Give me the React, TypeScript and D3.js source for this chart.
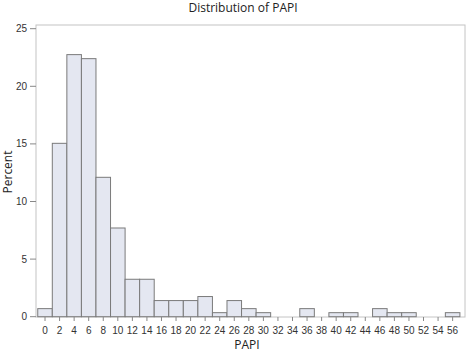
import React from 'react';
import * as d3 from 'd3';

const papiBins = [0, 2, 4, 6, 8, 10, 12, 14, 16, 18, 20, 22, 24, 26, 28, 30, 32, 34, 36, 38, 40, 42, 44, 46, 48, 50, 52, 54, 56];
const percentValues = [0.7, 15.05, 22.75, 22.4, 12.1, 7.7, 3.25, 3.25, 1.4, 1.4, 1.4, 1.75, 0.35, 1.4, 0.7, 0.35, 0, 0, 0.7, 0, 0.35, 0.35, 0, 0.7, 0.35, 0.35, 0, 0, 0.35];
const yTicks = [0, 5, 10, 15, 20, 25];

const W = 474;
const H = 351;
const frame = { left: 36, right: 465, top: 25, bottom: 317 };
const font = '"Liberation Sans", Arial, sans-serif';

const App = () => {
  // x: bin centre -> px, bins are 2 wide
  const x = d3.scaleLinear().domain([-1.24, 57.7]).range([frame.left, frame.right]);
  const y = d3.scaleLinear().domain([0, 25]).range([316.7, 28.7]);

  return (
    <svg width={W} height={H} style={{ position: 'absolute', left: 0, top: 0, background: '#fff' }}>
      <text x={243} y={12} textAnchor="middle" fontFamily='"Open Sans", sans-serif' fontSize={12} fill="#222">
        Distribution of PAPI
      </text>

      {/* plot wall */}
      <rect x={frame.left} y={frame.top} width={frame.right - frame.left} height={frame.bottom - frame.top}
        fill="none" stroke="#c4c4c4" strokeWidth={1} />

      {/* bars */}
      {percentValues.map((v, i) => v > 0 && (
        <rect key={i}
          x={x(papiBins[i] - 1)}
          y={y(v)}
          width={x(papiBins[i] + 1) - x(papiBins[i] - 1)}
          height={y(0) - y(v)}
          fill="#e4e7f1" stroke="#7a7a7a" strokeWidth={1} />
      ))}

      {/* y axis */}
      {yTicks.map((t) => (
        <g key={t}>
          <line x1={30} x2={frame.left} y1={y(t)} y2={y(t)} stroke="#888" />
          <text x={27} y={y(t) + 3.5} textAnchor="end" fontFamily={font} fontSize={10} fill="#333">{t}</text>
        </g>
      ))}
      <text transform="translate(12,172) rotate(-90)" textAnchor="middle" fontFamily='"Open Sans", sans-serif' fontSize={12} fill="#222">
        Percent
      </text>

      {/* x axis */}
      {papiBins.map((b) => (
        <g key={b}>
          <line x1={x(b)} x2={x(b)} y1={frame.bottom} y2={frame.bottom + 4} stroke="#888" />
          <text x={x(b)} y={frame.bottom + 17} textAnchor="middle" fontFamily={font} fontSize={10} fill="#333">{b}</text>
        </g>
      ))}
      <text x={247} y={348.5} textAnchor="middle" fontFamily='"Open Sans", sans-serif' fontSize={12} fill="#222">
        PAPI
      </text>
    </svg>
  );
};

export default App;
